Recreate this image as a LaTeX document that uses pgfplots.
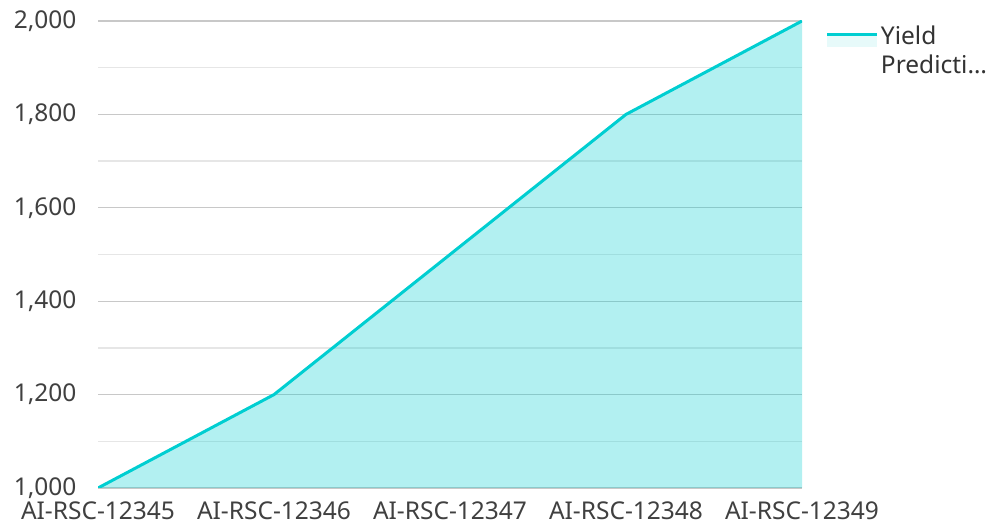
\documentclass[border=0pt]{standalone}
\usepackage{pgfplots}
\pgfplotsset{compat=1.18}
\usepackage{fontspec}
\setmainfont{Noto Sans}
\definecolor{lc}{RGB}{0,206,209}
\definecolor{lf}{RGB}{176,239,239}
\definecolor{tc}{RGB}{64,64,64}
\definecolor{gmaj}{RGB}{200,200,200}
\definecolor{gmin}{RGB}{230,230,230}
\begin{document}
\begin{tikzpicture}[x=1pt,y=1pt]
\path[use as bounding box] (0,0) rectangle (993,529);
\begin{axis}[
  at={(98pt,41pt)}, anchor=south west,
  width=704pt, height=467pt, scale only axis,
  xmin=0, xmax=4, ymin=1000, ymax=2000,
  enlargelimits=false,
  xtick={0,1,2,3,4},
  xticklabels={AI-RSC-12345,AI-RSC-12346,AI-RSC-12347,AI-RSC-12348,AI-RSC-12349},
  ytick={1000,1200,1400,1600,1800,2000},
  minor ytick={1100,1300,1500,1700,1900},
  ymajorgrids, yminorgrids,
  major grid style={gmaj, line width=1.3pt},
  minor grid style={gmin, line width=1.3pt},
  axis line style={draw=none},
  tick style={draw=none},
  minor tick style={draw=none},
  tick label style={font=\fontsize{24.5}{29}\selectfont, text=tc},
  yticklabel style={xshift=-18pt},
  xticklabel style={yshift=-13pt, inner ysep=1pt},
  /pgf/number format/assume math mode=true,
  /pgf/number format/1000 sep={,},
  legend style={at={(1.034,1.0)}, anchor=north west, draw=none, fill=none,
    font=\fontsize{24.5}{31}\selectfont, text=black!80, row sep=0pt,
    inner sep=0pt, outer sep=0pt},
  legend cell align=left,
  legend image code/.code={
    \fill[lf] (0pt,-12pt) rectangle (50pt,0pt);
    \draw[lc, line width=3pt] (0pt,0pt) -- (50pt,0pt);
  },
]
\addplot[draw=none, fill=lc, fill opacity=0.3] coordinates {
  (0,1000) (1,1200) (2,1500) (3,1800) (4,2000)
} \closedcycle;
\addlegendentry{\begin{tabular}[t]{@{}l@{}}Yield\\[-2pt]Predicti\ldots\end{tabular}}
\addplot[lc, line width=3pt, forget plot] coordinates {
  (0,1000) (1,1200) (2,1500) (3,1800) (4,2000)
};
\end{axis}
\end{tikzpicture}
\end{document}
